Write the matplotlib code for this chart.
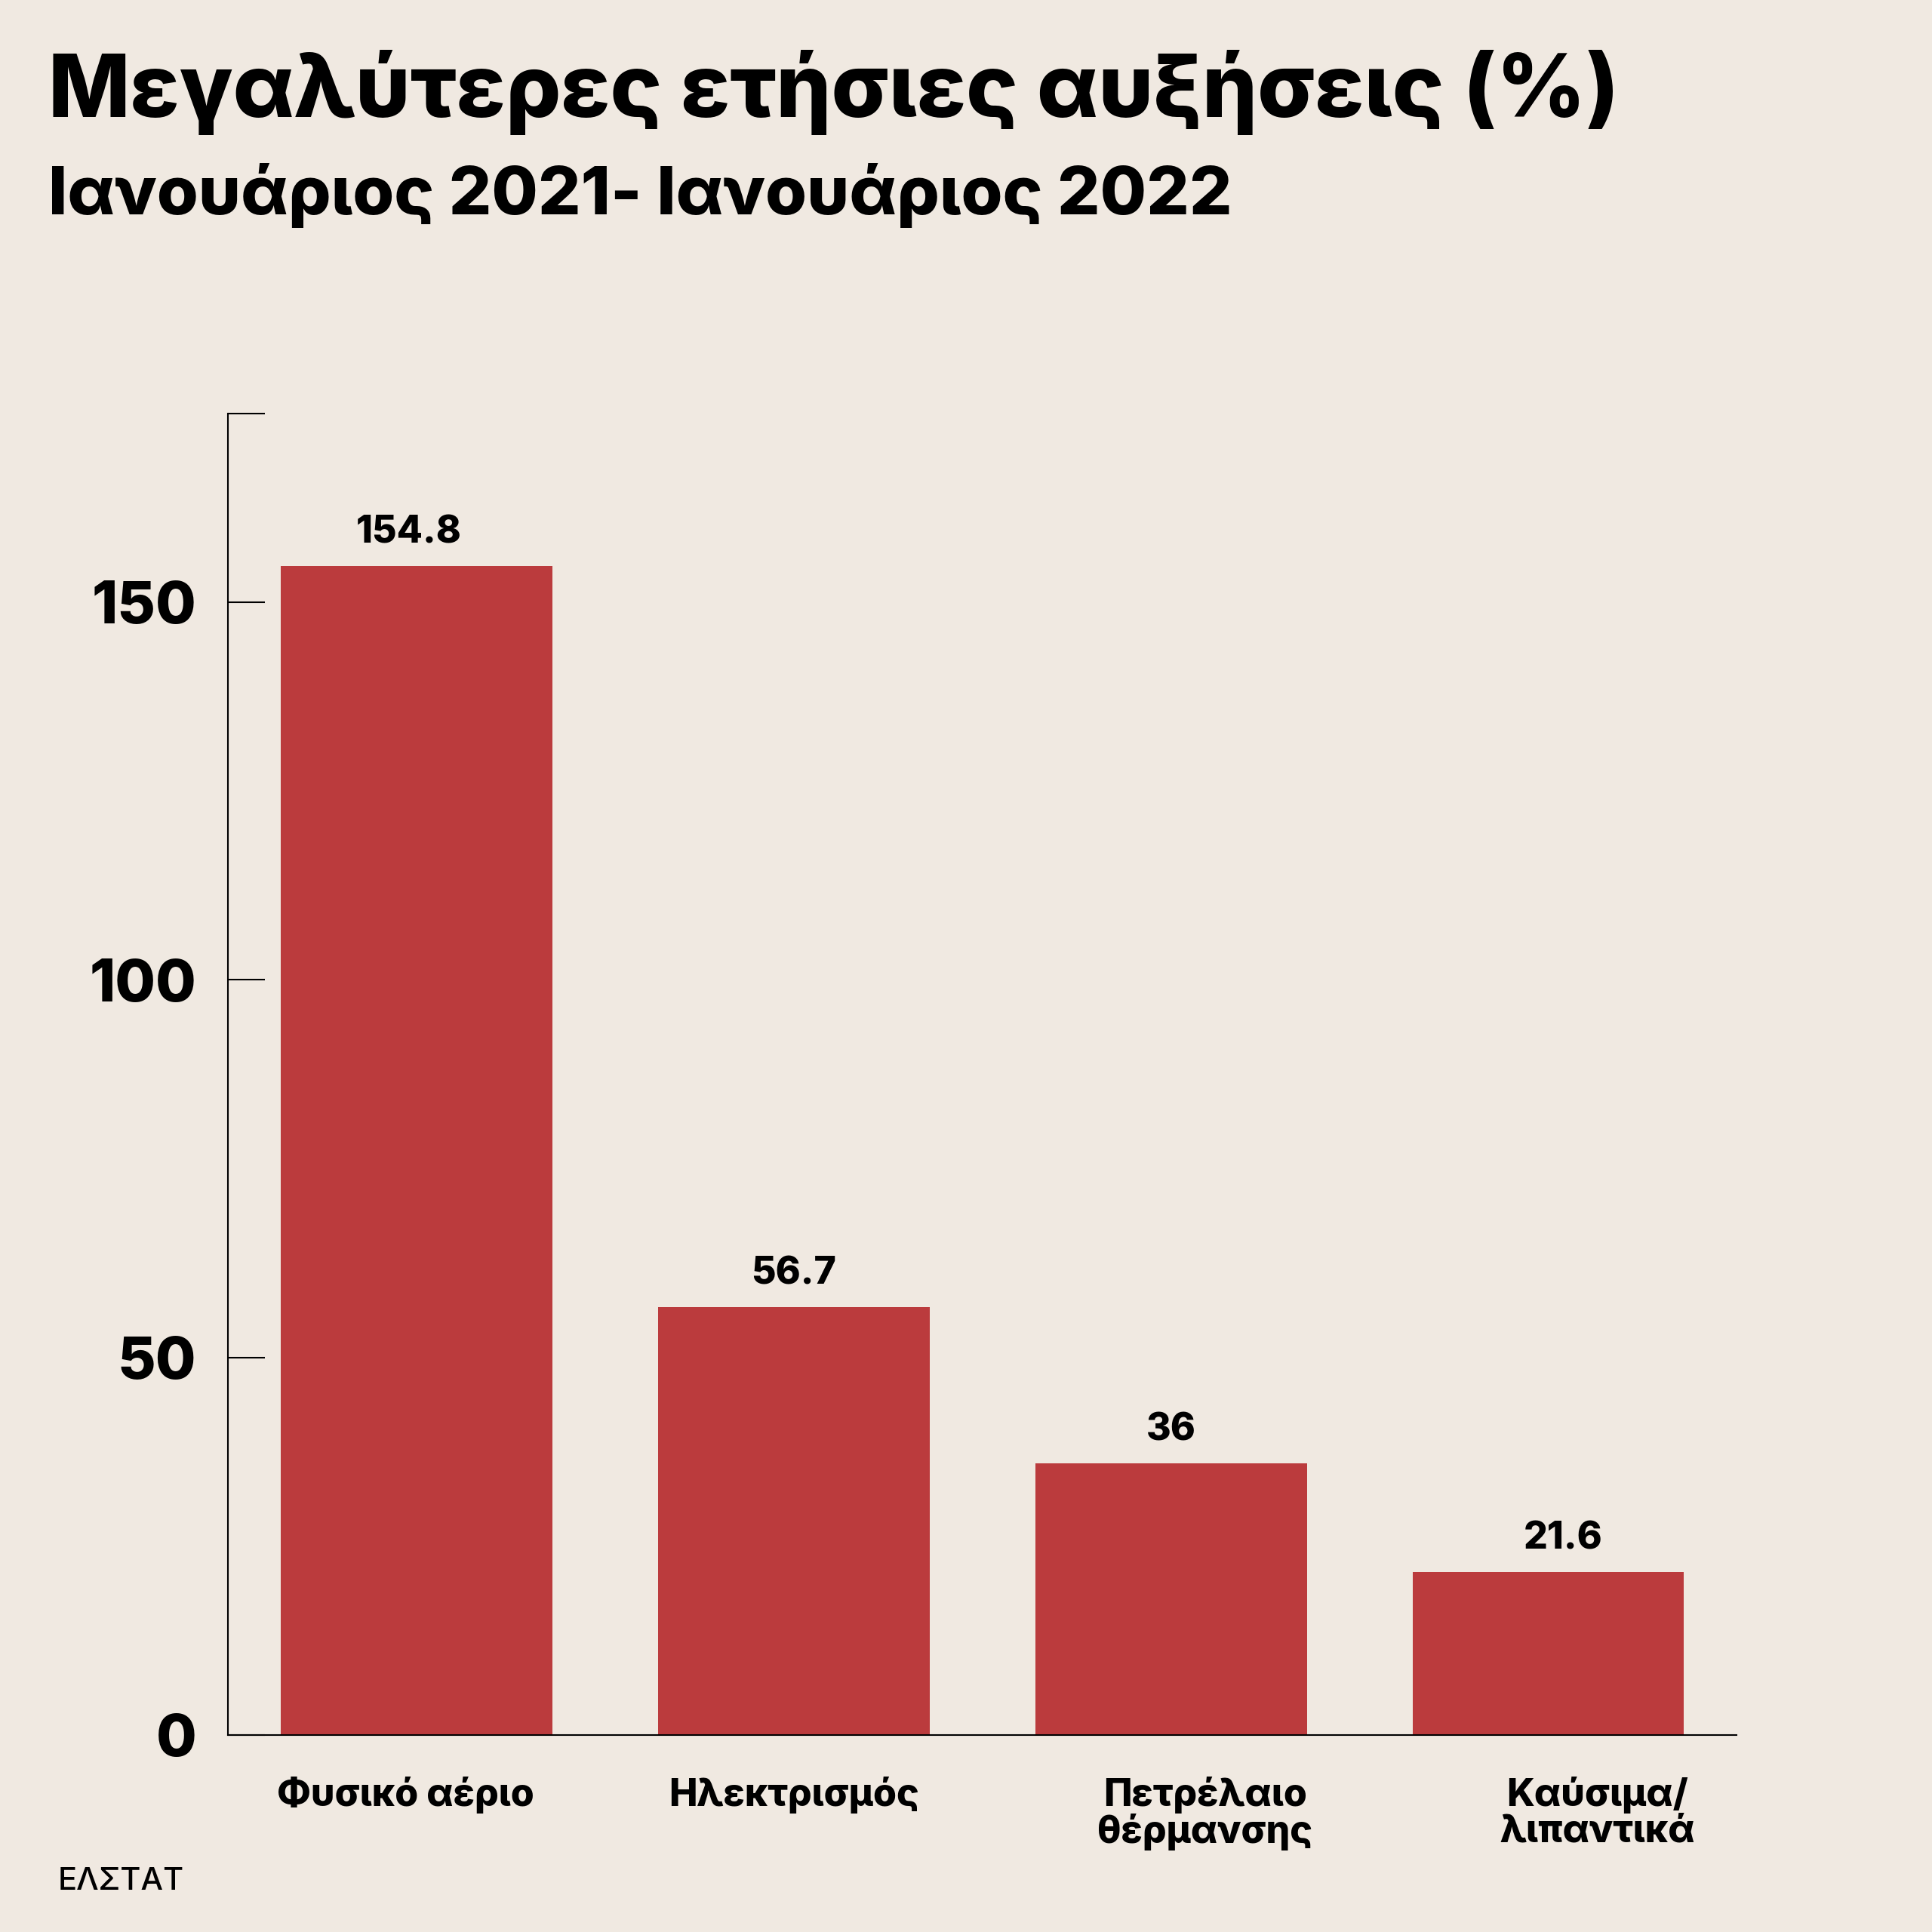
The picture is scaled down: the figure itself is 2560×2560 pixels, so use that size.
import matplotlib
matplotlib.use("Agg")
import matplotlib.pyplot as plt
from matplotlib.transforms import ScaledTranslation

categories = ["Φυσικό αέριο", "Ηλεκτρισμός", "Πετρέλαιο\nθέρμανσης", "Καύσιμα/\nλιπαντικά"]
values = [154.8, 56.7, 36, 21.6]
value_labels = ["154.8", "56.7", "36", "21.6"]
yticks = [0, 50, 100, 150, 175]
ytick_labels = ["0", "50", "100", "150", ""]

bg = "#F0E9E1"
red = "#BB3B3D"
plt.rcParams['font.family'] = ['Inter', 'DejaVu Sans']
W = "heavy"

fig = plt.figure(figsize=(25.6, 25.6), dpi=100, facecolor=bg)
ax = fig.add_axes([0.118, 0.102, 0.781, 0.684], facecolor=bg)
x = list(range(len(values)))
ax.bar(x, values, width=0.72, color=red, zorder=2)
for xi, v, l in zip(x, values, value_labels):
    ax.text(xi - 0.02 if xi == 0 else xi + 0.04 if xi == 3 else xi, v + 2, l,
            ha="center", va="bottom", fontsize=36, fontweight=W)
ax.set_xlim(-0.5, 3.5)
ax.set_ylim(0, 175)
ax.set_yticks(yticks)
ax.set_yticklabels(ytick_labels, fontsize=56, fontweight=W)
ax.tick_params(axis="y", direction="in", length=35, width=1.5, pad=30)
ax.set_xticks(x)
ax.set_xticklabels(categories, fontsize=36, fontweight=W, linespacing=1.0)
ax.tick_params(axis="x", length=0, pad=40)
offsets = [-0.15, 0.0, 0.45, 0.65]
for lab, off in zip(ax.get_xticklabels(), offsets):
    lab.set_transform(lab.get_transform() + ScaledTranslation(off, 0, fig.dpi_scale_trans))
for s in ["top", "right"]:
    ax.spines[s].set_visible(False)
ax.spines["left"].set_linewidth(1.5)
ax.spines["bottom"].set_linewidth(1.5)

fig.text(0.025, 0.952, "Μεγαλύτερες ετήσιες αυξήσεις (%)", fontsize=83, fontweight=W, va="center")
fig.text(0.025, 0.899, "Ιανουάριος 2021- Ιανουάριος 2022", fontsize=64, fontweight=W, va="center")
fig.text(0.030, 0.026, "ΕΛΣΤΑΤ", fontsize=30, fontweight="medium", va="center")
fig.savefig("out.png", facecolor=bg)
